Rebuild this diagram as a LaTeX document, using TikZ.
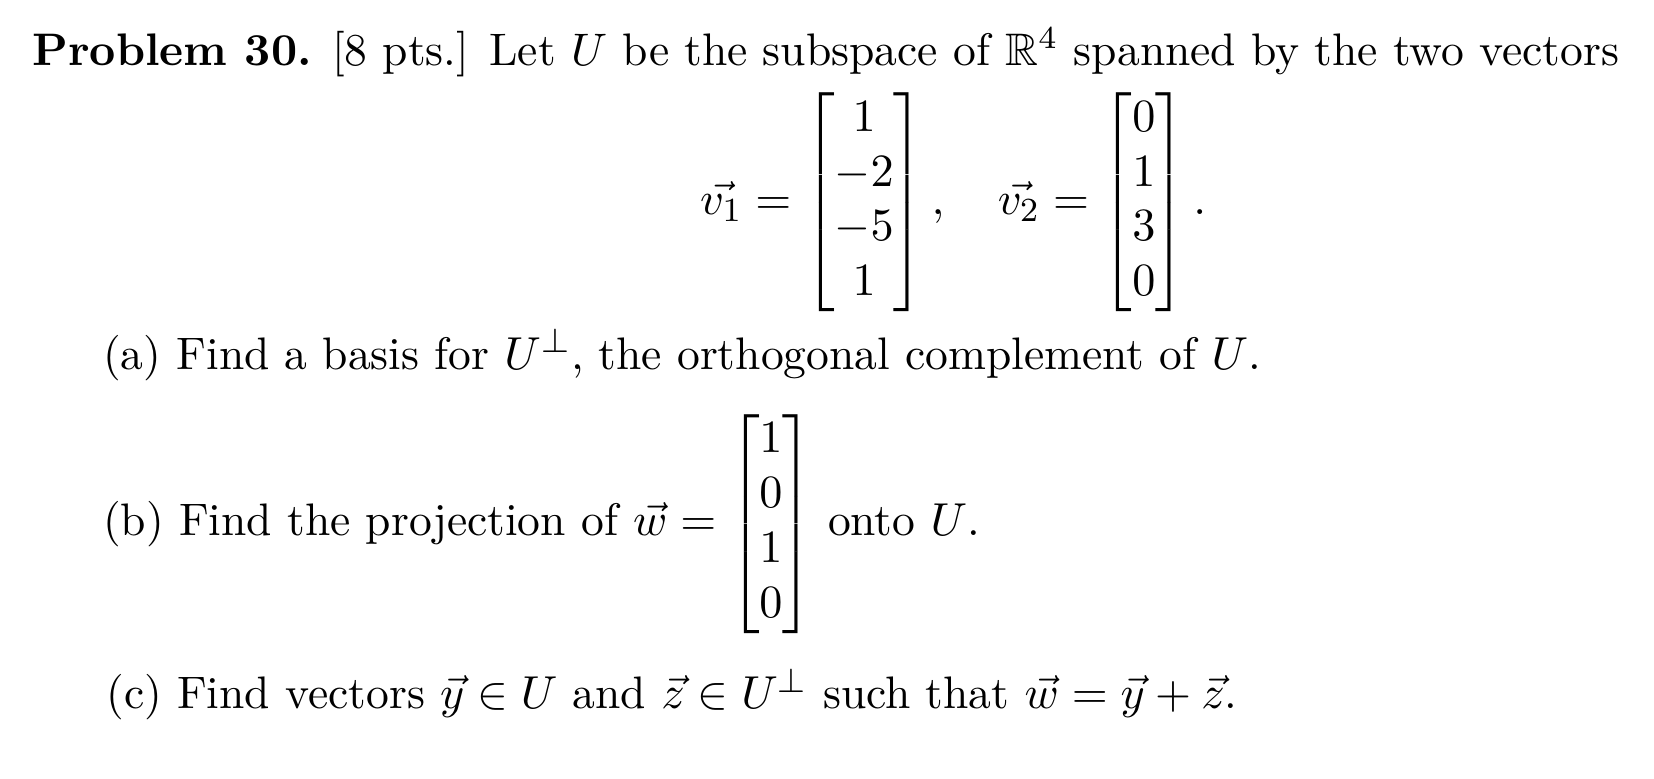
\documentclass[tikz,border=0pt]{standalone}
\usepackage{amsmath,amssymb}
\begin{document}
\begin{tikzpicture}[x=0.25pt,y=-0.25pt,txt/.style={anchor=base west,inner sep=0pt,font=\fontsize{10.8}{13}\selectfont}]
\useasboundingbox (0,0) rectangle (1568,738);
\node[anchor=base west,inner sep=0pt] (l1) at (30,62) {\resizebox{376pt}{!}{\textbf{Problem 30.} [8 pts.] Let $U$ be the subspace of $\mathbb{R}^4$ spanned by the two vectors}};
\node[txt,anchor=west] (eq) at (663,192) {$\vec{v_1}=\begin{bmatrix}1\\-2\\-5\\1\end{bmatrix},\quad \vec{v_2}=\begin{bmatrix}0\\1\\3\\0\end{bmatrix}.$};
\node[txt] (a) at (97,350) {(a) Find a basis for $U^\perp$, the orthogonal complement of $U$.};
\node[txt,anchor=west] (b) at (97,497) {(b) Find the projection of $\vec{w}=\begin{bmatrix}1\\0\\1\\0\end{bmatrix}$ onto $U$.};
\node[txt] (c) at (100,672) {(c) Find vectors $\vec{y}\in U$ and $\vec{z}\in U^\perp$ such that $\vec{w}=\vec{y}+\vec{z}$.};
\end{tikzpicture}
\end{document}
